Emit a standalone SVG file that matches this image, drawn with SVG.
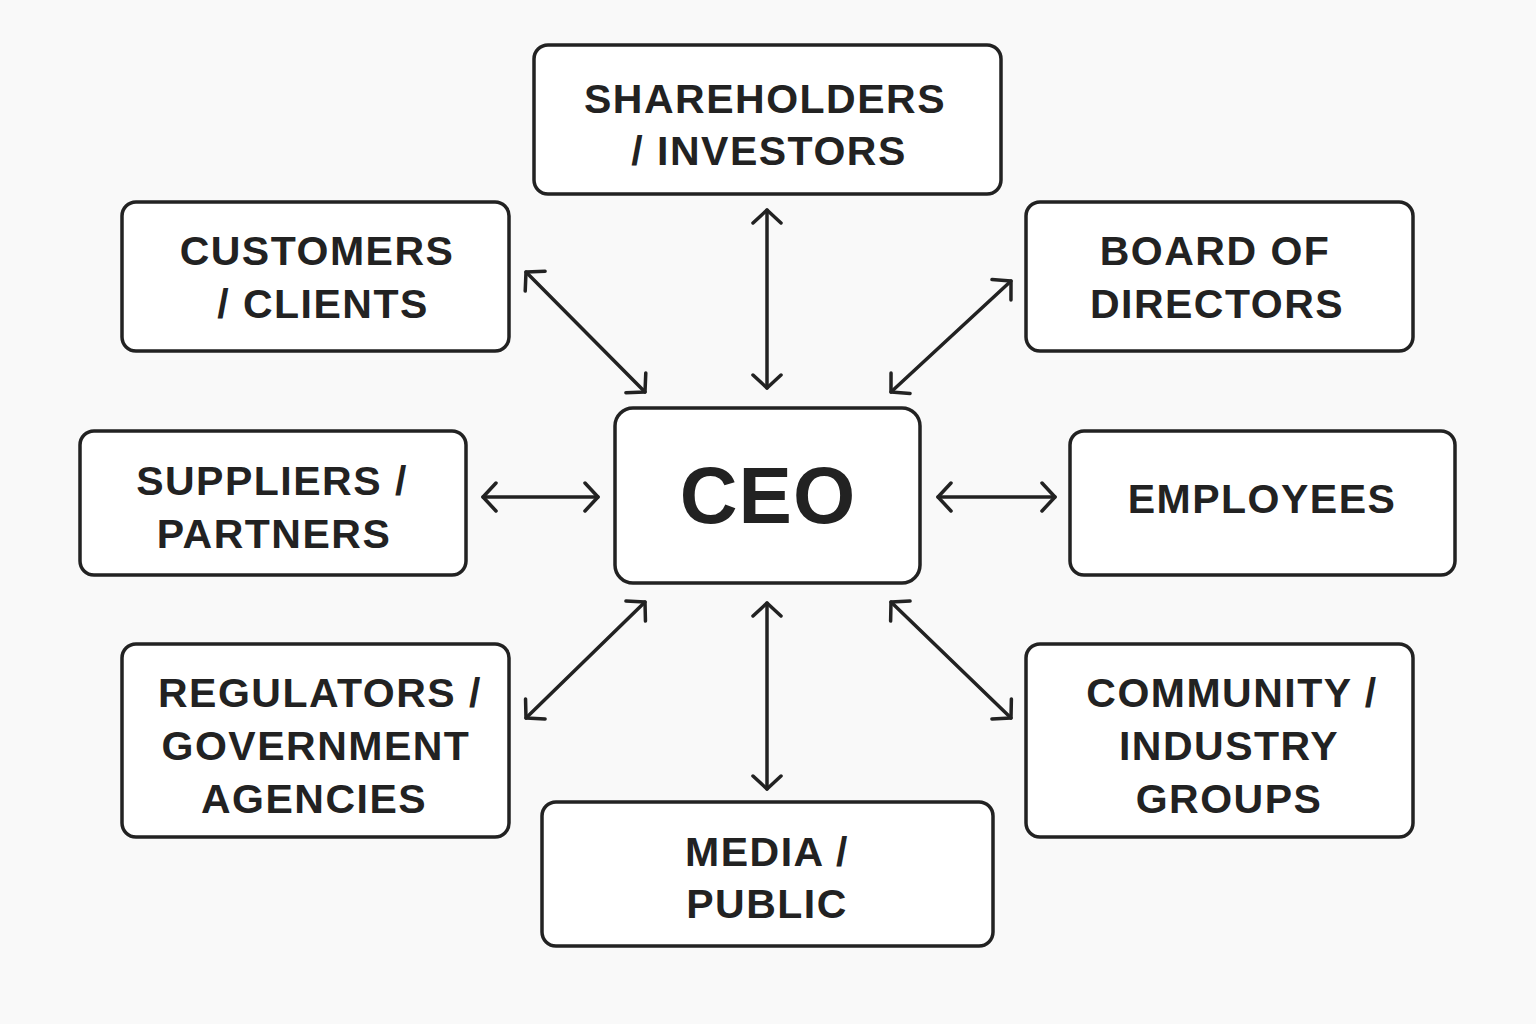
<svg xmlns="http://www.w3.org/2000/svg" width="1536" height="1024" viewBox="0 0 1536 1024">
<defs>
<style>
.box{fill:#ffffff;stroke:#222222;stroke-width:3.5}
.t{font-family:"Liberation Sans",Arial,sans-serif;font-weight:bold;font-size:41px;fill:#222222;text-anchor:middle;letter-spacing:1.5px}
.ceo{font-size:80px;letter-spacing:1px}
.c{stroke:#222222;stroke-width:3.5;fill:none;stroke-linecap:round}
</style>
<marker id="ah" viewBox="-20 -20 40 40" markerWidth="40" markerHeight="40" markerUnits="userSpaceOnUse" orient="auto-start-reverse" refX="0" refY="0">
<path d="M-13,-14 L0,0 L-13,14" fill="none" stroke="#222222" stroke-width="3.5" stroke-linecap="round" stroke-linejoin="round"/>
</marker>
</defs>
<rect width="1536" height="1024" fill="#f9f9f9"/>
<g id="connectors">
<line class="c" x1="767" y1="210" x2="767" y2="388" marker-start="url(#ah)" marker-end="url(#ah)"/>
<line class="c" x1="526" y1="272" x2="645" y2="392" marker-start="url(#ah)" marker-end="url(#ah)"/>
<line class="c" x1="1011" y1="281" x2="891" y2="392" marker-start="url(#ah)" marker-end="url(#ah)"/>
<line class="c" x1="483" y1="497" x2="598" y2="497" marker-start="url(#ah)" marker-end="url(#ah)"/>
<line class="c" x1="938" y1="497" x2="1055" y2="497" marker-start="url(#ah)" marker-end="url(#ah)"/>
<line class="c" x1="645" y1="602" x2="526" y2="718" marker-start="url(#ah)" marker-end="url(#ah)"/>
<line class="c" x1="767" y1="603" x2="767" y2="789" marker-start="url(#ah)" marker-end="url(#ah)"/>
<line class="c" x1="891" y1="602" x2="1011" y2="718" marker-start="url(#ah)" marker-end="url(#ah)"/>
</g>
<g id="ceo">
<rect class="box" x="615" y="408" width="305" height="175" rx="18"/>
<text class="t ceo" x="768" y="523">CEO</text>
</g>
<g id="shareholders">
<rect class="box" x="534" y="45" width="467" height="149" rx="14"/>
<text class="t" x="765" y="113">SHAREHOLDERS</text>
<text class="t" x="769" y="165">/ INVESTORS</text>
</g>
<g id="customers">
<rect class="box" x="122" y="202" width="387" height="149" rx="14"/>
<text class="t" x="317" y="265">CUSTOMERS</text>
<text class="t" x="323" y="318">/ CLIENTS</text>
</g>
<g id="board">
<rect class="box" x="1026" y="202" width="387" height="149" rx="14"/>
<text class="t" x="1215" y="265">BOARD OF</text>
<text class="t" x="1217" y="318">DIRECTORS</text>
</g>
<g id="suppliers">
<rect class="box" x="80" y="431" width="386" height="144" rx="14"/>
<text class="t" x="272" y="495">SUPPLIERS /</text>
<text class="t" x="274" y="548">PARTNERS</text>
</g>
<g id="employees">
<rect class="box" x="1070" y="431" width="385" height="144" rx="14"/>
<text class="t" x="1262" y="513">EMPLOYEES</text>
</g>
<g id="regulators">
<rect class="box" x="122" y="644" width="387" height="193" rx="14"/>
<text class="t" x="320" y="707">REGULATORS /</text>
<text class="t" x="316" y="760">GOVERNMENT</text>
<text class="t" x="314" y="813">AGENCIES</text>
</g>
<g id="community">
<rect class="box" x="1026" y="644" width="387" height="193" rx="14"/>
<text class="t" x="1232" y="707">COMMUNITY /</text>
<text class="t" x="1229" y="760">INDUSTRY</text>
<text class="t" x="1229" y="813">GROUPS</text>
</g>
<g id="media">
<rect class="box" x="542" y="802" width="451" height="144" rx="14"/>
<text class="t" x="767" y="866">MEDIA /</text>
<text class="t" x="767" y="918">PUBLIC</text>
</g>
</svg>
